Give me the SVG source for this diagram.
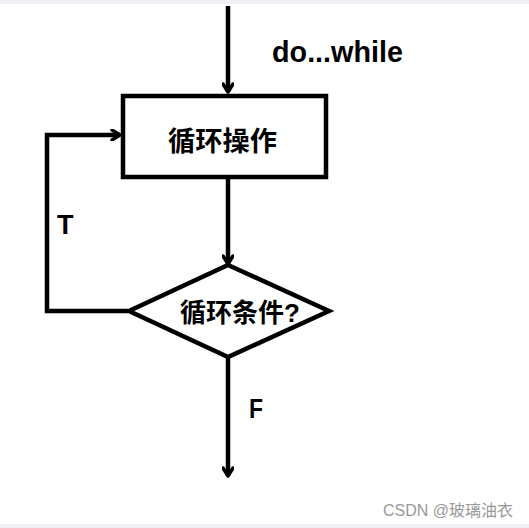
<svg xmlns="http://www.w3.org/2000/svg" width="529" height="528" viewBox="0 0 529 528">
<defs>
<marker id="arr" viewBox="0 0 12 12" refX="10" refY="6" markerWidth="12" markerHeight="12" markerUnits="userSpaceOnUse" orient="auto">
<path d="M2,1 L10,6 L2,11" fill="none" stroke="#000" stroke-width="3.5" stroke-linecap="round" stroke-linejoin="round"/>
</marker>
<style>
.ln{fill:none;stroke:#000;stroke-width:4.5;stroke-linejoin:miter}
.sh{fill:#fff;stroke:#000;stroke-width:4.5}
.t{font-family:"Liberation Sans","Noto Sans CJK SC",sans-serif;font-weight:bold;fill:#000}
</style>
</defs>
<rect x="0" y="0" width="529" height="528" fill="#fff"/>
<rect x="0" y="0" width="529" height="4" fill="#f0f1f4"/>
<rect x="0" y="524" width="529" height="4" fill="#f0f1f4"/>
<g id="connectors">
<line class="ln" x1="228" y1="6" x2="228" y2="92" marker-end="url(#arr)"/>
<line class="ln" x1="228" y1="178" x2="228" y2="264" marker-end="url(#arr)"/>
<polyline class="ln" points="128,311 47,311 47,135 120,135" marker-end="url(#arr)"/>
<line class="ln" x1="228" y1="357" x2="228" y2="476" marker-end="url(#arr)"/>
</g>
<g id="label-dowhile"><text class="t" x="272" y="62" font-size="29" textLength="131" lengthAdjust="spacingAndGlyphs">do...while</text></g>
<g id="node-op">
<rect class="sh" x="123" y="96" width="203" height="81"/>
<text class="t" x="168" y="151" font-size="27" textLength="109" lengthAdjust="spacingAndGlyphs">循环操作</text>
</g>
<g id="node-cond">
<polygon class="sh" points="228,265 329,311 228,357 129,311"/>
<text class="t" x="180" y="322" font-size="26" textLength="120" lengthAdjust="spacingAndGlyphs">循环条件?</text>
</g>
<g id="label-T"><text class="t" x="57" y="234" font-size="27">T</text></g>
<g id="label-F"><text class="t" x="249" y="418" font-size="28" textLength="14" lengthAdjust="spacingAndGlyphs">F</text></g>
<text x="513" y="516" font-size="16" text-anchor="end" fill="#999" font-family="'Liberation Sans','Noto Sans CJK SC',sans-serif">CSDN @玻璃油衣</text>
</svg>
